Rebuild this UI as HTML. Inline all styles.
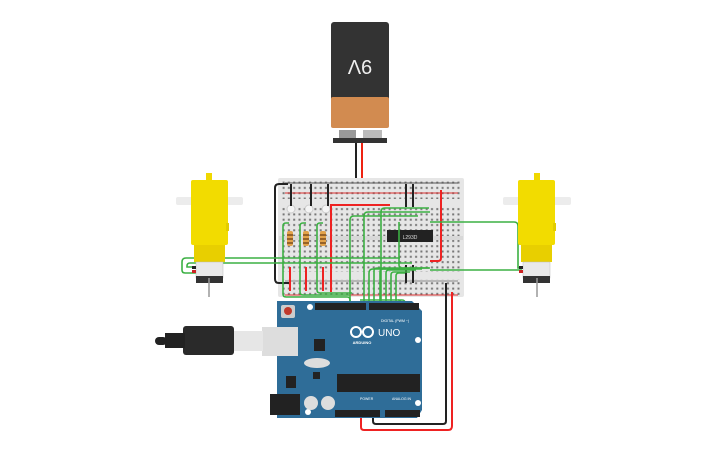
<!DOCTYPE html>
<html><head><meta charset="utf-8"><style>html,body{margin:0;padding:0;background:#fff;width:725px;height:453px;overflow:hidden}</style></head>
<body>
<svg width="725" height="453" viewBox="0 0 725 453" xmlns="http://www.w3.org/2000/svg" font-family="Liberation Sans, sans-serif">
<defs>
<pattern id="dots" x="281" y="180" width="5.3" height="5.3" patternUnits="userSpaceOnUse"><rect x="1.6" y="1.6" width="2" height="2" fill="#777"/></pattern>
</defs>
<!-- battery -->
<rect x="331" y="22" width="58" height="80" rx="3" fill="#333"/>
<rect x="331" y="97" width="58" height="31" rx="2" fill="#d28b50"/>
<text x="360" y="74" fill="#eee" font-size="20" text-anchor="middle" transform="rotate(180 360 67)">9V</text>
<rect x="339" y="130" width="17" height="9" fill="#999"/>
<rect x="363" y="130" width="19" height="9" fill="#bbb"/>
<rect x="333" y="138" width="54" height="5" fill="#333"/>
<line x1="356" y1="143" x2="356" y2="190" stroke="#222" stroke-width="2"/>
<line x1="362" y1="143" x2="362" y2="186" stroke="#e21" stroke-width="2"/>
<!-- breadboard -->
<rect x="278" y="178" width="186" height="119" rx="2" fill="#e6e6e6"/>
<rect x="281" y="180" width="180" height="115" fill="url(#dots)"/>
<rect x="279" y="199" width="184" height="7" fill="#e6e6e6"/>
<rect x="279" y="272" width="184" height="7" fill="#e6e6e6"/>
<rect x="279" y="236" width="184" height="4" fill="#d8d8d8"/>
<line x1="285" y1="183" x2="458" y2="183" stroke="#555" stroke-width="1"/>
<line x1="285" y1="193" x2="458" y2="193" stroke="#d33" stroke-width="1"/>
<line x1="285" y1="281" x2="458" y2="281" stroke="#888" stroke-width="1"/>
<line x1="285" y1="295" x2="458" y2="295" stroke="#d33" stroke-width="1"/>
<!-- LEDs -->
<g fill="#f4f4f4" stroke="#ccc"><circle cx="291" cy="209" r="4"/><circle cx="309" cy="209" r="4"/><circle cx="326" cy="209" r="4"/></g>
<!-- resistors -->
<g fill="#e2a24a"><rect x="287" y="231" width="6" height="15" rx="2"/><rect x="303" y="231" width="6" height="15" rx="2"/><rect x="320" y="231" width="6" height="15" rx="2"/></g>
<g stroke="#6a3d16" stroke-width="1.2"><path d="M287 235h6M287 239h6M287 243h6M303 235h6M303 239h6M303 243h6M320 235h6M320 239h6M320 243h6"/></g>
<!-- chip -->
<rect x="387" y="230" width="46" height="12" fill="#222"/>
<text x="410" y="239" fill="#ddd" font-size="5" text-anchor="middle">L293D</text>
<!-- black wires -->
<g fill="none" stroke="#222" stroke-width="2">
<path d="M288 184H279q-4 0-4 4V279q0 4 4 4H290"/>
<path d="M291 184V206M311 184V206M328 184V206"/>
<path d="M406 184V207M413 184V207M406 265V283M413 265V283"/>
<path d="M446 283V421q0 3-3 3H376q-3 0-3-3V413"/>
</g>
<!-- red wires -->
<g fill="none" stroke="#e22" stroke-width="2">
<path d="M390 205H331V292"/>
<path d="M290 267V291M306 267V291M323 267V291"/>
<path d="M441 190V258q0 3-3 3H430"/>
<path d="M452 292V426q0 4-4 4H364q-3 0-3-3V413"/>
</g>
<!-- green wires -->
<g fill="none" stroke="#3cb043" stroke-width="1.6">
<path d="M289 223H286q-3 0-3 3V294q0 3 3 3H347q3 0 3 3V306"/>
<path d="M306 223H303q-3 0-3 3V292q0 3 3 3H349"/>
<path d="M323 223H320q-3 0-3 3V290q0 3 3 3H352"/>
<path d="M350 306V220q0-4 4-4H418"/>
<path d="M364 306V216q0-4 4-4H430"/>
<path d="M381 306V212q0-4 4-4H429"/>
<path d="M369 306V273q0-4 4-4H400"/>
<path d="M374 306V271q0-3 3-3H429"/>
<path d="M380 306V272q0-3 3-3H422"/>
<path d="M386 306V273q0-3 3-3H416"/>
<path d="M391 306V275q0-3 3-3H410"/>
<path d="M396 306V276q0-3 3-3H405"/>
<path d="M401 306V303q0-3-3-3"/>
<path d="M405 306V303q0-3-3-3H360"/>
<path d="M399 222V265q0 3 3 3H430"/>
<path d="M430 222H514q4 0 4 4V268H522"/>
<path d="M430 270H522"/>
<path d="M400 258H186q-4 0-4 4V270q0 3 3 3H196"/>
<path d="M412 263H190q-3 0-3 3V267H196"/>
</g>
<!-- left motor -->
<rect x="176" y="197" width="67" height="8" rx="2" fill="#ececec"/>
<rect x="206" y="173" width="6" height="9" fill="#f0d800"/>
<rect x="191" y="180" width="37" height="65" rx="2" fill="#f2dc00"/>
<rect x="226" y="223" width="3" height="8" fill="#e2cc00"/>
<rect x="194" y="245" width="31" height="17" fill="#e8cf00"/>
<rect x="196" y="262" width="27" height="16" fill="#e9e9e9" stroke="#bbb" stroke-width=".5"/>
<rect x="196" y="276" width="27" height="7" fill="#333"/>
<line x1="209" y1="278" x2="209" y2="297" stroke="#999" stroke-width="1.5"/>
<rect x="192" y="266" width="4" height="3" fill="#222"/><rect x="192" y="270" width="4" height="3" fill="#c22"/>
<!-- right motor -->
<rect x="503" y="197" width="68" height="8" rx="2" fill="#ececec"/>
<rect x="534" y="173" width="6" height="9" fill="#f0d800"/>
<rect x="518" y="180" width="37" height="65" rx="2" fill="#f2dc00"/>
<rect x="553" y="223" width="3" height="8" fill="#e2cc00"/>
<rect x="521" y="245" width="31" height="17" fill="#e8cf00"/>
<rect x="523" y="262" width="27" height="16" fill="#e9e9e9" stroke="#bbb" stroke-width=".5"/>
<rect x="523" y="276" width="27" height="7" fill="#333"/>
<line x1="537" y1="278" x2="537" y2="297" stroke="#999" stroke-width="1.5"/>
<rect x="519" y="266" width="4" height="3" fill="#222"/><rect x="519" y="270" width="4" height="3" fill="#c22"/>
<!-- arduino -->
<path d="M277 301H412L422 311V410L417 418H277Z" fill="#2f6d98"/>
<rect x="315" y="303" width="51" height="7" fill="#222"/>
<rect x="369" y="303" width="50" height="7" fill="#222"/>
<rect x="335" y="410" width="45" height="7" fill="#222"/>
<rect x="385" y="410" width="35" height="7" fill="#222"/>
<circle cx="310" cy="307" r="3" fill="#fff"/><circle cx="418" cy="340" r="3" fill="#fff"/><circle cx="418" cy="403" r="3" fill="#fff"/><circle cx="308" cy="412" r="3" fill="#fff"/>
<rect x="281" y="305" width="14" height="13" rx="2" fill="#ccc"/><circle cx="288" cy="311" r="4" fill="#c0392b"/>
<rect x="262" y="327" width="36" height="29" fill="#ddd"/>
<rect x="233" y="331" width="30" height="20" fill="#e6e6e6"/>
<rect x="183" y="326" width="51" height="29" rx="3" fill="#2a2a2a"/>
<rect x="165" y="333" width="20" height="15" fill="#222"/>
<rect x="155" y="337" width="12" height="8" rx="4" fill="#222"/>
<rect x="314" y="339" width="11" height="12" fill="#222"/>
<ellipse cx="317" cy="363" rx="13" ry="5" fill="#ddd"/>
<rect x="313" y="372" width="7" height="7" fill="#222"/>
<rect x="286" y="376" width="10" height="12" fill="#222"/>
<rect x="337" y="374" width="83" height="18" fill="#222"/>
<rect x="270" y="394" width="30" height="21" fill="#222"/>
<circle cx="311" cy="403" r="7" fill="#ddd"/><circle cx="328" cy="403" r="7" fill="#ddd"/>
<circle cx="356" cy="332" r="5" fill="none" stroke="#fff" stroke-width="2"/><circle cx="368" cy="332" r="5" fill="none" stroke="#fff" stroke-width="2"/>
<text x="362" y="344" fill="#fff" font-size="4" text-anchor="middle" font-weight="bold">ARDUINO</text>
<text x="378" y="336" fill="#fff" font-size="10">UNO</text>
<text x="395" y="322" fill="#fff" font-size="3.5" text-anchor="middle">DIGITAL (PWM ~)</text>
<text x="360" y="400" fill="#fff" font-size="3.5">POWER</text>
<text x="392" y="400" fill="#fff" font-size="3.5">ANALOG IN</text>
</svg>
</body></html>
